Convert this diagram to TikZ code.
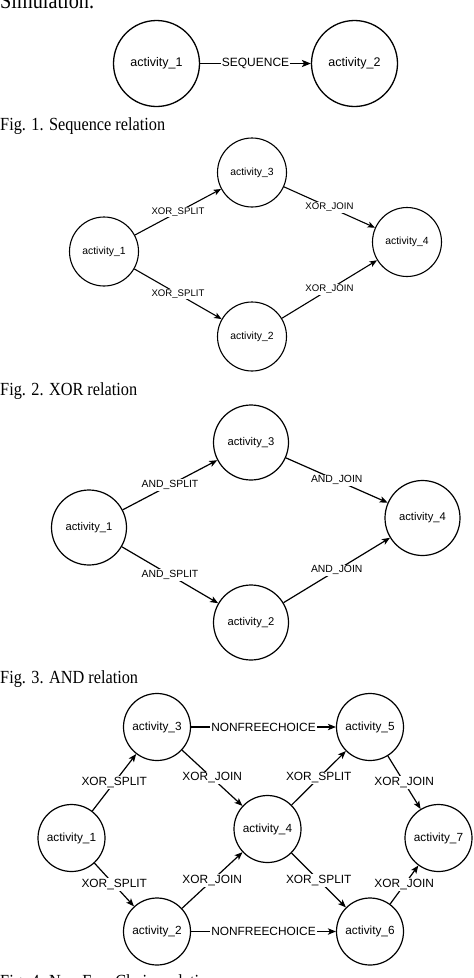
\documentclass[tikz,border=0pt]{standalone}
\usepackage{fontspec}
\setmainfont{Liberation Serif}
\setsansfont{Liberation Sans}
\usetikzlibrary{arrows.meta}
\newcommand{\capt}[2]{\scalebox{0.88}[1]{\fontsize{#1}{#1}\selectfont #2}}
\begin{document}
\begin{tikzpicture}[x=1pt,y=-1pt,
  act/.style={circle, draw, line width=#1, inner sep=0pt, text=black},
  act/.default=1.2pt,
  lbl/.style={fill=white, inner sep=1pt, text=black},
  arr/.style={-{Stealth[length=#1,width=0.8*#1,inset=0.25*#1]}},
  caption/.style={anchor=base west, inner sep=0pt, font=\rmfamily}
]
\useasboundingbox (0,0) rectangle (474,978);
\clip (0,0) rectangle (474,978);
\fill[white] (0,0) rectangle (474,978);

% top text
\node[caption] (sim) at (0,8.5) {\capt{23}{Simulation.}};

% ---------- Fig. 1 ----------
\begin{scope}[every node/.append style={font=\sffamily\fontsize{12.5}{12.5}\selectfont}]
\node[act=1.3pt, minimum size=86pt] (f1a1) at (156.5,63.5) {activity\_1};
\node[act=1.3pt, minimum size=86pt] (f1a2) at (354.5,63.5) {activity\_2};
\draw[arr=9pt, line width=1.3pt] (f1a1) -- node[lbl, font=\sffamily\fontsize{12}{12}\selectfont] (f1l) {SEQUENCE} (f1a2);
\end{scope}
\node[caption] (cap1) at (0,130.3) {\capt{18.5}{Fig. 1. Sequence relation}};

% ---------- Fig. 2 ----------
\begin{scope}[every node/.append style={font=\sffamily\fontsize{10.4}{10.4}\selectfont}]
\node[act=1.1pt, minimum size=69pt] (f2a1) at (104,251.5) {activity\_1};
\node[act=1.1pt, minimum size=69pt] (f2a3) at (252,172.5) {activity\_3};
\node[act=1.1pt, minimum size=69pt] (f2a2) at (252,336.5) {activity\_2};
\node[act=1.1pt, minimum size=69pt] (f2a4) at (407,242) {activity\_4};
\begin{scope}[line width=1.1pt, arr=7.5pt, every node/.append style={font=\sffamily\fontsize{9.6}{9.6}\selectfont}]
\draw (f2a1) -- node[lbl] (f2l1) {XOR\_SPLIT} (f2a3);
\draw (f2a1) -- node[lbl] (f2l2) {XOR\_SPLIT} (f2a2);
\draw (f2a3) -- node[lbl] (f2l3) {XOR\_JOIN} (f2a4);
\draw (f2a2) -- node[lbl] (f2l4) {XOR\_JOIN} (f2a4);
\end{scope}
\end{scope}
\node[caption] (cap2) at (0,395.3) {\capt{18.5}{Fig. 2. XOR relation}};

% ---------- Fig. 3 ----------
\begin{scope}[every node/.append style={font=\sffamily\fontsize{11.2}{11.2}\selectfont}]
\node[act=1.2pt, minimum size=75pt] (f3a1) at (89,527.5) {activity\_1};
\node[act=1.2pt, minimum size=75pt] (f3a3) at (251,442.5) {activity\_3};
\node[act=1.2pt, minimum size=75pt] (f3a2) at (251,622.5) {activity\_2};
\node[act=1.2pt, minimum size=75pt] (f3a4) at (422.5,518) {activity\_4};
\begin{scope}[line width=1.2pt, arr=8pt, every node/.append style={font=\sffamily\fontsize{10.4}{10.4}\selectfont}]
\draw (f3a1) -- node[lbl] (f3l1) {AND\_SPLIT} (f3a3);
\draw (f3a1) -- node[lbl] (f3l2) {AND\_SPLIT} (f3a2);
\draw (f3a3) -- node[lbl] (f3l3) {AND\_JOIN} (f3a4);
\draw (f3a2) -- node[lbl] (f3l4) {AND\_JOIN} (f3a4);
\end{scope}
\end{scope}
\node[caption] (cap3) at (0,683.3) {\capt{18.5}{Fig. 3. AND relation}};

% ---------- Fig. 4 ----------
\begin{scope}[every node/.append style={font=\sffamily\fontsize{11.8}{11.8}\selectfont}]
\node[act=1.2pt, minimum size=67pt] (f4a1) at (71.5,838) {activity\_1};
\node[act=1.2pt, minimum size=67pt] (f4a3) at (157,727) {activity\_3};
\node[act=1.2pt, minimum size=67pt] (f4a2) at (157,931.5) {activity\_2};
\node[act=1.2pt, minimum size=67pt] (f4a4) at (267.5,829) {activity\_4};
\node[act=1.2pt, minimum size=67pt] (f4a5) at (370,727) {activity\_5};
\node[act=1.2pt, minimum size=67pt] (f4a6) at (370,931.5) {activity\_6};
\node[act=1.2pt, minimum size=67pt] (f4a7) at (438.5,838) {activity\_7};
\begin{scope}[line width=1.2pt, arr=8pt, every node/.append style={font=\sffamily\fontsize{11.9}{11.9}\selectfont}]
\draw (f4a1) -- node[lbl] (f4l1) {XOR\_SPLIT} (f4a3);
\draw (f4a1) -- node[lbl] (f4l2) {XOR\_SPLIT} (f4a2);
\draw (f4a3) -- node[lbl] (f4l3) {NONFREECHOICE} (f4a5);
\draw (f4a2) -- node[lbl] (f4l4) {NONFREECHOICE} (f4a6);
\draw (f4a3) -- node[lbl] (f4l5) {XOR\_JOIN} (f4a4);
\draw (f4a2) -- node[lbl] (f4l6) {XOR\_JOIN} (f4a4);
\draw (f4a4) -- node[lbl] (f4l7) {XOR\_SPLIT} (f4a5);
\draw (f4a4) -- node[lbl] (f4l8) {XOR\_SPLIT} (f4a6);
\draw (f4a5) -- node[lbl] (f4l9) {XOR\_JOIN} (f4a7);
\draw (f4a6) -- node[lbl] (f4l10) {XOR\_JOIN} (f4a7);
\end{scope}
\end{scope}
\node[caption] (cap4) at (0,987.5) {\capt{18.5}{Fig. 4. Non-Free Choice relation}};
\end{tikzpicture}
\end{document}
